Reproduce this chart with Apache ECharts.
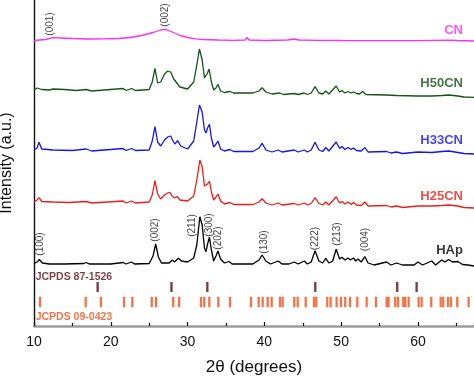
<!DOCTYPE html>
<html><head><meta charset="utf-8">
<script src="https://cdn.jsdelivr.net/npm/echarts@6/dist/echarts.min.js"></script>
<style>html,body{margin:0;padding:0;background:#fff}#c{width:474px;height:377px}</style>
</head><body><div id="c"></div>
<script>
// ---- data (2θ in degrees, intensity in a.u., patterns vertically offset) ----
const xTicks = [10, 20, 30, 40, 50, 60];
const seriesNames = ['CN', 'H50CN', 'H33CN', 'H25CN', 'HAp'];

const CN = [[10,285.5],[11.5,286.5],[12.5,288.3],[13.5,288],[15,287.5],[17,287],[19,287.2],[21,287.5],[22.5,288.5],[24,290.5],[25.5,293.5],[26.5,296],[27.1,296.7],[27.5,295.5],[28.3,293],[29,290.5],[30,288.5],[31,287.2],[32,286.5],[34,286],[36,285.7],[37.5,286],[37.75,288.5],[38,286],[40,285.5],[43,286],[43.8,287],[44.5,286],[47,285.7],[50,285.5],[55,285.4],[60,285.3],[64,285.8],[65,285.5],[67.3,285]];

const H50CN = [[10,236],[10.4,238],[10.65,240],[11,236.5],[12,236],[12.5,237],[14,236.5],[15.5,235.5],[16.8,236.5],[17.5,235],[21.6,237.5],[22,235.5],[22.7,237.5],[23.2,235.5],[25,236.5],[25.4,244],[25.75,257.7],[26.1,243],[26.5,244],[27,252],[27.4,255],[27.8,254],[28.2,247],[28.6,243],[29,239],[30,237],[30.8,244],[31.2,261],[31.55,277],[31.9,266],[32.2,248],[32.4,246],[32.6,253],[32.8,257],[33.1,244],[33.4,236],[33.7,238],[33.95,241.7],[34.3,235],[34.8,233.5],[35.5,234.5],[36,233],[38.5,233],[39.3,235],[39.7,238.3],[40.2,234],[41,232],[42,233],[42.5,231.5],[43.9,232.5],[44.4,231.5],[45.2,233],[45.6,231.5],[46.1,233],[46.6,239.3],[47.1,233],[47.6,232],[48,235],[48.4,232],[49.35,240],[49.8,234],[50.1,235.5],[50.5,233],[50.9,234.5],[51.3,233],[51.6,234],[52,232.5],[52.4,232],[52.8,234.5],[53.2,231.5],[55.9,231],[57.2,230.5],[60,230],[61.8,230],[63.1,230.5],[64,231],[65.2,230],[66,229],[67.3,228.7]];

const H33CN = [[10,176],[10.4,178],[10.65,183.7],[11,177],[12.5,176],[15,175.5],[16.8,177],[17.5,175],[21.6,177.5],[22,175.5],[22.7,177.5],[23.2,175.5],[25,176],[25.4,185],[25.75,199.3],[26.1,184],[26.5,180],[27,186],[27.4,189],[27.8,190],[28.1,185],[28.35,182],[28.7,185.3],[29.1,180],[30,177],[30.8,185],[31.2,204],[31.55,221],[31.9,214],[32.2,196],[32.4,193],[32.6,198],[32.85,201.7],[33.1,188],[33.4,179],[33.7,182],[33.95,185],[34.3,177],[34.8,175],[35.5,176.5],[36,174.5],[38.5,174.5],[39.3,178],[39.7,182.7],[40.2,176],[41,174],[41.8,176],[42.3,174],[43.9,176],[44.4,174],[45.2,176],[45.6,174],[46.1,176],[46.6,183.7],[47.1,176],[47.6,174.5],[48,178.5],[48.4,175],[49.35,184],[49.8,177.5],[50.1,179.5],[50.5,176.5],[50.9,178.5],[51.3,176.5],[51.6,178],[52,175.5],[52.6,175],[53.1,178.5],[53.5,174],[55.9,174.5],[56.5,173],[57.2,174],[58,172.5],[60,174],[61.8,173.5],[63.1,174.5],[64,175],[65.2,173.5],[66,172.5],[67.3,172]];

const H25CN = [[10,124],[10.4,126],[10.65,128.3],[11,124.5],[12.5,124],[14.5,123.5],[16.8,124.5],[17.5,123],[21.6,125],[22,123],[22.7,125],[23.2,123],[25,124],[25.4,131],[25.75,145.3],[26.1,132],[26.5,127],[27,131],[27.4,133],[27.7,133.7],[28,130],[28.3,128],[28.65,129.5],[29,126],[30,125],[30.8,130],[31.2,146],[31.6,166],[31.9,159],[32.2,140],[32.4,138],[32.6,142],[32.85,145],[33.1,134],[33.4,126],[33.7,129],[33.95,132],[34.3,125],[34.8,122],[35.5,123.5],[36,121.5],[38.5,121.5],[39.3,124],[39.7,127.3],[40.2,123],[41,121],[41.8,123],[42.3,121],[43.9,122.5],[44.4,121],[45.2,123],[45.6,121],[46.1,122.5],[46.6,128.3],[47.1,122.5],[47.6,121],[48,124],[48.4,121],[49.35,129.3],[49.8,123],[50.1,124.5],[50.5,122],[50.9,124],[51.3,121.5],[51.6,123.5],[52,121],[52.6,120.5],[53.1,124],[53.5,120],[55.9,120.5],[56.5,119],[57.2,120],[58,118.5],[60,120],[61.8,120],[63.1,120.5],[64,121],[65.2,120],[66,118.5],[67.3,118]];

const HAp = [[10,62.5],[10.4,64],[10.7,66.5],[11.1,63],[12,62],[14,62],[16.5,62.5],[16.8,63.5],[17.2,62],[20,62],[21.6,63.5],[22,62],[22.7,64],[23.1,62],[25,62.5],[25.5,70],[25.85,82],[26.2,69],[26.6,63],[27.6,63],[28,66],[28.3,64],[28.8,67.7],[29.2,65],[30,64],[30.8,68],[31.2,81],[31.6,109.3],[31.9,101],[32.2,78],[32.4,74.3],[32.6,82],[32.85,88.7],[33.1,76],[33.4,65],[33.7,70],[33.95,75],[34.3,67],[34.8,63],[35.4,64.5],[35.8,62],[38.5,62],[39.3,66],[39.7,71],[40.2,65],[40.8,62],[41.8,65],[42.3,62],[43.2,62],[43.9,64],[44.4,62],[45.2,65],[45.6,62],[46.1,64],[46.6,75.3],[47.1,65],[47.6,63],[48,67.7],[48.4,63],[48.9,65],[49.35,76.7],[49.8,67],[50.1,68.7],[50.5,66],[50.9,68],[51.2,66],[51.6,68],[51.9,65],[52.2,67],[52.6,64],[53.1,69.3],[53.5,63],[54.3,61],[55.9,64],[56.5,61],[57.2,63],[58,61],[59.5,61],[60,64],[60.6,61],[61.8,65],[62.3,61],[63.1,66],[63.5,64],[64,66.5],[64.5,64],[65.2,64.5],[65.8,61.5],[66.5,61],[67.3,60]];

// reference patterns (peak positions, 2θ)
const jcpds87_1526 = [18.29, 27.9, 32.57, 46.63, 57.3, 59.83];
const jcpds09_0423 = [10.78, 16.73, 18.72, 21.72, 22.8, 25.33, 25.89, 28.13, 28.9, 31.74, 32.17, 32.83, 34.0, 35.52, 38.26, 39.26, 39.78, 40.43, 40.95, 42.03, 42.38, 43.89, 44.34, 45.38, 46.46, 46.76, 48.19, 48.63, 49.41, 49.97, 50.53, 51.15, 52.1, 53.32, 54.53, 55.92, 56.18, 57.04, 57.4, 58.09, 58.35, 58.79, 60.09, 60.48, 61.73, 62.96, 63.29, 63.91, 64.3, 65.12, 66.6];

// Miller-index annotations: [2θ, intensity, text]
const millerCN = [[12.08, 302, '(001)'], [27.15, 311, '(002)']];
const millerHAp = [[10.78, 82, '(100)'], [25.85, 96, '(002)'], [30.6, 100.5, '(211)'], [32.83, 101, '(300)'], [34.0, 88, '(202)'], [39.95, 84, '(130)'], [46.68, 87.5, '(222)'], [49.54, 92, '(213)'], [53.1, 86.5, '(004)']];
// sample-name labels: [2θ, intensity, name]
const nameLabels = [[65.86, 295.3, 'CN'], [65.86, 242.7, 'H50CN'], [65.86, 185.3, 'H33CN'], [65.86, 129.3, 'H25CN'], [65.86, 75.3, 'HAp']];
const refLabels = [[10.22, 48.7, 'JCPDS 87-1526'], [10.22, 8.7, 'JCPDS 09-0423']];
const refRowLevel = [39, 24];

// ---- styles ----
const FONT = 'Liberation Sans, Arial, sans-serif';
const colors = ['#ff2bff', '#15531a', '#1414f0', '#f01c1c', '#000000'];
const refColors = ['#5a1218', '#f0501a'];

const chart = echarts.init(document.getElementById('c'), null, {renderer: 'canvas'});
const patterns = [CN, H50CN, H33CN, H25CN, HAp];

const series = patterns.map((d, i) => ({
  type: 'line', name: seriesNames[i], data: d, showSymbol: false, symbol: 'none',
  lineStyle: {color: colors[i], width: 1.3}, z: 3, silent: true
}));

series.push({
  type: 'scatter', data: jcpds87_1526.map(x => [x, refRowLevel[0]]),
  symbol: 'rect', symbolSize: [2.4, 10], itemStyle: {color: refColors[0]}, silent: true
});
series.push({
  type: 'scatter', data: jcpds09_0423.map(x => [x, refRowLevel[1]]),
  symbol: 'rect', symbolSize: [2.3, 10.5], itemStyle: {color: refColors[1]}, silent: true
});

series.push({
  type: 'scatter', data: millerCN.concat(millerHAp), symbolSize: 0, silent: true,
  label: {show: true, position: 'inside', rotate: 90, formatter: p => p.data[2],
    fontSize: 10, color: '#111', fontFamily: FONT}
});
series.push({
  type: 'scatter', data: nameLabels.map((d, i) => ({value: d, label: {color: colors[i]}})),
  symbolSize: 0, silent: true,
  label: {show: true, position: 'inside', align: 'right', formatter: p => p.data.value[2],
    fontSize: 13, fontWeight: 'bold', fontFamily: FONT}
});
series.push({
  type: 'scatter', data: refLabels.map((d, i) => ({value: d, label: {color: refColors[i]}})),
  symbolSize: 0, silent: true,
  label: {show: true, position: 'inside', align: 'left', formatter: p => p.data.value[2],
    fontSize: 10.5, fontWeight: 'bold', fontFamily: FONT}
});

chart.setOption({
  animation: false,
  backgroundColor: '#fff',
  grid: {left: 34, right: 0, top: 0, bottom: 51, containLabel: false, outerBoundsMode: 'none'},
  xAxis: [{
    type: 'value', min: 10, max: 67.3, interval: 10,
    name: '2θ (degrees)', nameLocation: 'middle', nameGap: 33,
    nameTextStyle: {fontSize: 17, color: '#111', fontFamily: FONT},
    axisLine: {show: true, onZero: false, lineStyle: {color: '#111', width: 1.4}},
    axisTick: {show: true, inside: true, length: 4, lineStyle: {color: '#111', width: 1.2}},
    minorTick: {show: true, splitNumber: 2, length: 3, lineStyle: {color: '#111', width: 1.2}},
    axisLabel: {fontSize: 14, color: '#111', margin: 9, fontFamily: FONT,
      formatter: v => (xTicks.indexOf(v) >= 0 ? String(v) : '')},
    splitLine: {show: false}
  }, {
    type: 'value', position: 'top', min: 10, max: 67.3,
    axisLine: {show: true, lineStyle: {color: '#999', width: 1.4}},
    axisTick: {show: false}, axisLabel: {show: false}, splitLine: {show: false}
  }],
  yAxis: {
    type: 'value', min: 0, max: 326,
    name: 'Intensity (a.u.)', nameLocation: 'middle', nameGap: 19,
    nameTextStyle: {fontSize: 16, color: '#111', fontFamily: FONT},
    axisLine: {show: true, lineStyle: {color: '#111', width: 1.4}},
    axisTick: {show: false}, axisLabel: {show: false}, splitLine: {show: false}
  },
  series: series
});
</script></body></html>
